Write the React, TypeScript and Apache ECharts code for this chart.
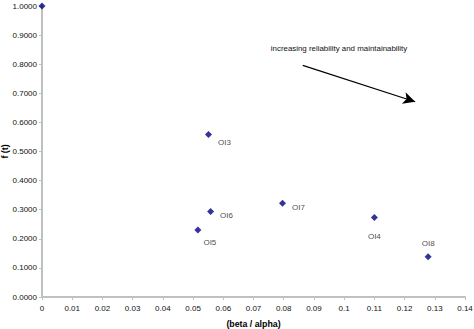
import React, { useEffect, useRef } from "react";
import * as echarts from "echarts";

const pointNames = ["", "OI3", "OI6", "OI5", "OI7", "OI4", "OI8"];
const xValues = [0, 0.0551, 0.0558, 0.0516, 0.0796, 0.11, 0.1278];
const yValues = [1.0, 0.558, 0.2935, 0.23, 0.322, 0.273, 0.138];
const labelPositions = ["right", "insideLeft", "insideLeft", "insideLeft", "insideLeft", "bottom", "top"];
const labelOffsets = [[0, 0], [8, 8], [8, 4], [4, 12], [8, 4], [0, 6], [0, -1]];

const arrowFrom = [0.0863, 0.796];
const arrowTo = [0.1235, 0.671];
const annotationText = "increasing reliability and maintainability";

export default function App() {
  const ref = useRef<HTMLDivElement>(null);
  useEffect(() => {
    if (!ref.current) return;
    const chart = echarts.init(ref.current, undefined, { renderer: "svg" });
    const font = "Liberation Sans, Arial, sans-serif";
    const data = xValues.map((x, i) => ({
      value: [x, yValues[i]],
      name: pointNames[i],
      label: {
        show: pointNames[i] !== "",
        position: labelPositions[i] as any,
        offset: labelOffsets[i],
      },
    }));
    chart.setOption({
      animation: false,
      backgroundColor: "#ffffff",
      textStyle: { fontFamily: font },
      grid: { left: 42, right: 9, top: 6, bottom: 32, containLabel: false, outerBoundsMode: "none" },
      xAxis: {
        type: "value",
        min: 0,
        max: 0.14,
        interval: 0.01,
        name: "(beta / alpha)",
        nameLocation: "middle",
        nameGap: 22,
        nameMoveOverlap: false,
        nameTextStyle: { fontWeight: "bold", fontSize: 8.8, color: "#000", fontFamily: font },
        axisLine: { show: true, lineStyle: { color: "#c0c0c0", width: 2 } },
        axisTick: { show: true, length: 3, lineStyle: { color: "#c0c0c0" } },
        axisLabel: {
          color: "#111",
          fontSize: 8,
          fontFamily: font,
          margin: 7,
          formatter: (v: number) => String(+v.toFixed(2)),
        },
        splitLine: { show: false },
      },
      yAxis: {
        type: "value",
        min: 0,
        max: 1,
        interval: 0.1,
        name: "f (t)",
        nameLocation: "middle",
        nameRotate: 90,
        nameGap: 33,
        nameMoveOverlap: false,
        nameTextStyle: { fontWeight: "bold", fontSize: 8.8, color: "#000", fontFamily: font },
        axisLine: { show: true, lineStyle: { color: "#c0c0c0", width: 2 } },
        axisTick: { show: true, length: 3, lineStyle: { color: "#c0c0c0" } },
        axisLabel: {
          color: "#111",
          fontSize: 8,
          fontFamily: font,
          margin: 5,
          formatter: (v: number) => v.toFixed(4),
        },
        splitLine: { show: false },
      },
      series: [
        {
          type: "scatter",
          symbol: "diamond",
          symbolSize: 7,
          itemStyle: { color: "#000080" },
          label: {
            show: true,
            formatter: "{b}",
            color: "#111",
            fontSize: 8,
            fontFamily: font,
          },
          data,
          markLine: {
            silent: true,
            symbol: ["none", "arrow"],
            symbolSize: [9, 12],
            label: { show: false },
            lineStyle: { color: "#000", width: 1.2, type: "solid" },
            data: [[{ coord: arrowFrom }, { coord: arrowTo }]],
          },
        },
      ],
      graphic: [
        {
          type: "text",
          x: 339,
          y: 48,
          style: {
            text: annotationText,
            fontSize: 7.9,
            fontFamily: font,
            fill: "#111",
            align: "center",
            verticalAlign: "middle",
          },
        },
      ],
    });
    return () => chart.dispose();
  }, []);
  return <div ref={ref} style={{ width: 474, height: 329, position: "absolute", left: 0, top: 0 }} />;
}
